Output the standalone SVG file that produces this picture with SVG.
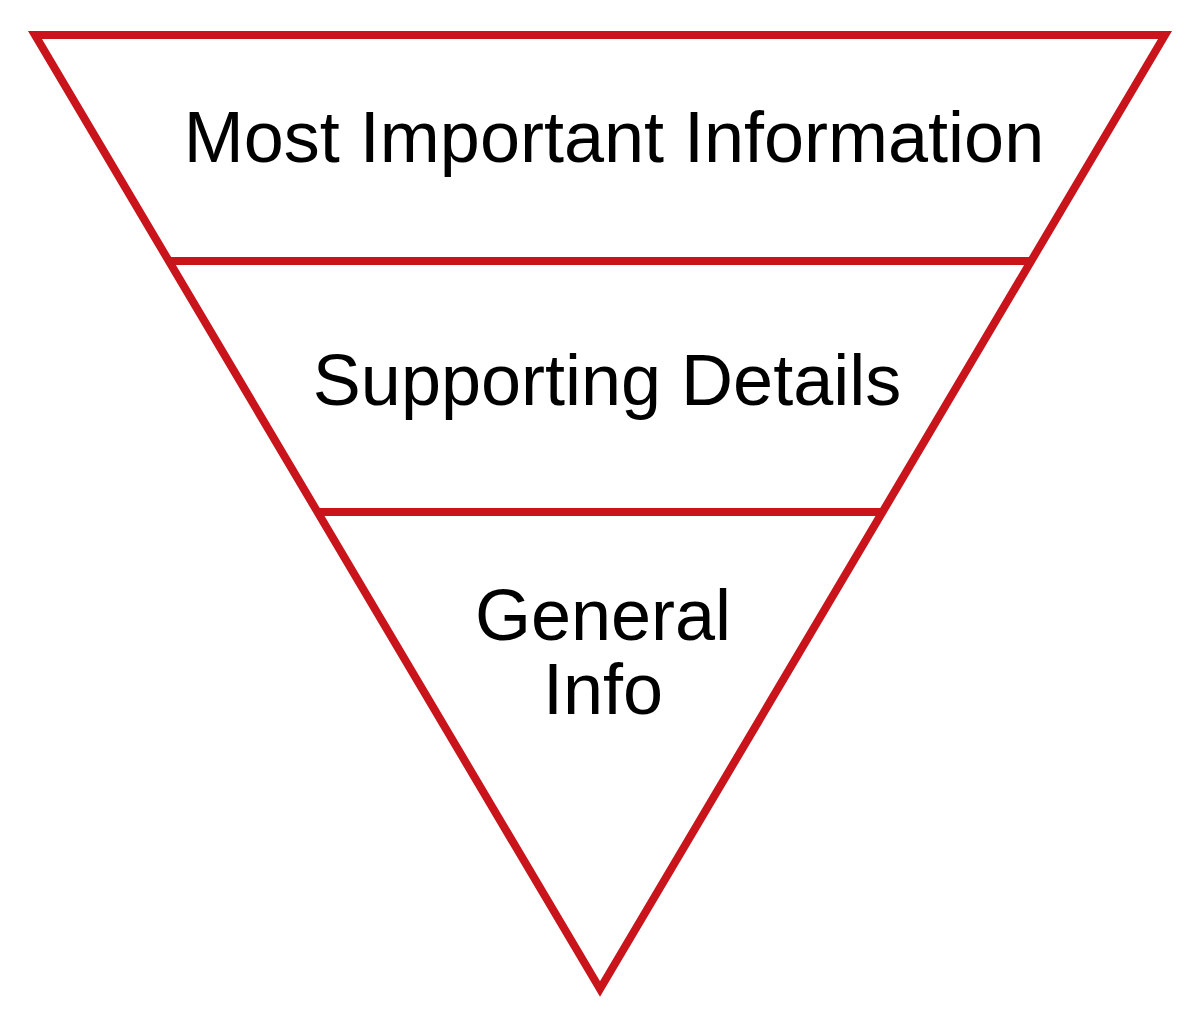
<svg xmlns="http://www.w3.org/2000/svg" width="1201" height="1024" viewBox="0 0 1201 1024">
<style>
.edge{fill:none;stroke:#c8141a;stroke-width:8;stroke-linejoin:miter;stroke-miterlimit:10}
.lbl{font-family:"Liberation Sans",Arial,sans-serif;font-size:72px;fill:#000;text-anchor:middle}
</style>
<rect width="1201" height="1024" fill="#fff"/>
<g id="connectors">
<polygon class="edge" points="35,35 1165,35 600,989"/>
<line class="edge" x1="168" y1="261" x2="1032" y2="261"/>
<line class="edge" x1="317" y1="512" x2="883" y2="512"/>
</g>
<g id="top"><text class="lbl" x="614" y="162">Most Important Information</text></g>
<g id="middle"><text class="lbl" x="607" y="405">Supporting Details</text></g>
<g id="bottom"><text class="lbl" x="603" y="640">General</text><text class="lbl" x="603" y="714">Info</text></g>
</svg>
